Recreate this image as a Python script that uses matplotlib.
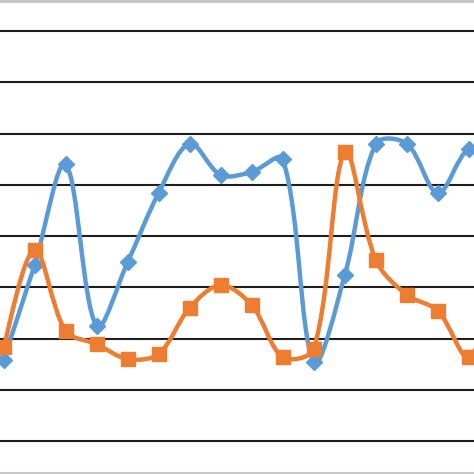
import math
import matplotlib.pyplot as plt
from matplotlib.path import Path
from matplotlib.patches import PathPatch

# values (grid spacing = 1 unit)
x = list(range(17))
blue = [1.58, 3.43, 5.40, 2.24, 3.49, 4.84, 5.80, 5.19, 5.25, 5.50,
        1.54, 3.24, 5.80, 5.80, 4.84, 5.70, 5.60]
orange = [1.83, 3.73, 2.15, 1.89, 1.60, 1.70, 2.60, 3.04, 2.65, 1.64,
          1.80, 5.64, 3.53, 2.85, 2.54, 1.64, 3.20]

blue_c = '#5B9BD5'
orange_c = '#ED7D31'
XS, YS = 31.03, 51.25  # pixels per unit, used to weigh the smoothing


def smooth_path(xs, ys, f=1 / 6):
    # Excel-like smoothed line: cubic bezier, tangents weighted by segment length
    pts = list(zip(xs, ys))
    n = len(pts)

    def d(a, b):
        return math.hypot((a[0] - b[0]) * XS, (a[1] - b[1]) * YS)

    verts = [pts[0]]
    codes = [Path.MOVETO]
    for i in range(n - 1):
        p0 = pts[max(i - 1, 0)]
        p1 = pts[i]
        p2 = pts[i + 1]
        p3 = pts[min(i + 2, n - 1)]
        d01, d12, d23 = d(p0, p1), d(p1, p2), d(p2, p3)
        k1 = 2 * d12 / (d01 + d12) if d01 > 0 else 1
        k2 = 2 * d12 / (d12 + d23) if d23 > 0 else 1
        c1 = (p1[0] + (p2[0] - p0[0]) * f * k1, p1[1] + (p2[1] - p0[1]) * f * k1)
        c2 = (p2[0] - (p3[0] - p1[0]) * f * k2, p2[1] - (p3[1] - p1[1]) * f * k2)
        verts += [c1, c2, p2]
        codes += [Path.CURVE4] * 3
    return Path(verts, codes)


fig = plt.figure(figsize=(4.74, 4.74), dpi=100)
bot = 1.5 / 474
top = 1 - 1.0 / 474
ax = fig.add_axes([0, bot, 1, top - bot])

# pixel mapping: value v -> 441 - 51.25*v, index i -> 3.5 + 31.03*i
ax.set_ylim((441 - 472.5) / YS, (441 - 1.0) / YS)
ax.set_xlim(-3.5 / XS, (474 - 3.5) / XS)

for v in range(9):
    ax.axhline(v, color='#1e1e1e', linewidth=1.5, zorder=1)

ax.add_patch(PathPatch(smooth_path(x, blue), facecolor='none',
                       edgecolor=blue_c, linewidth=3.2, zorder=2,
                       capstyle='round', joinstyle='round'))
ax.plot(x, blue, linestyle='none', marker='D', markersize=8.5,
        color=blue_c, zorder=3)

ax.add_patch(PathPatch(smooth_path(x, orange), facecolor='none',
                       edgecolor=orange_c, linewidth=3.2, zorder=4,
                       capstyle='round', joinstyle='round'))
ax.plot(x, orange, linestyle='none', marker='s', markersize=10.5,
        color=orange_c, zorder=5)

ax.set_xticks([])
ax.set_yticks([])
for s in ['left', 'right']:
    ax.spines[s].set_visible(False)
for s in ['top', 'bottom']:
    ax.spines[s].set_color('#c8c8c8')
    ax.spines[s].set_linewidth(2.2)

plt.savefig('out.png', dpi=100)
